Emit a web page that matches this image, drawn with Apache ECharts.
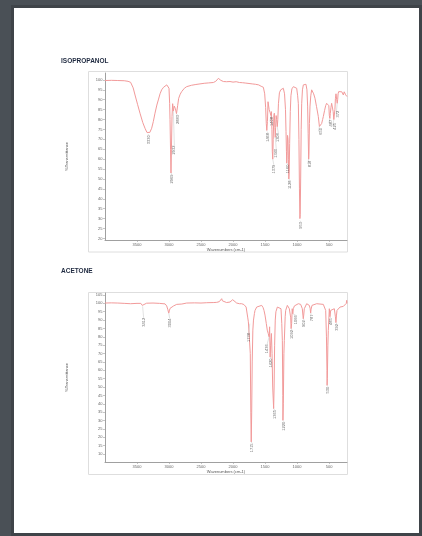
<!DOCTYPE html>
<html><head><meta charset="utf-8">
<script src="https://cdn.jsdelivr.net/npm/echarts@6/dist/echarts.min.js"></script>
<style>html,body{margin:0;padding:0;background:#4a5056;}#c{width:422px;height:536px;}</style>
</head><body><div id="c"></div>
<script>
// ---------- data ----------
const xTicks = [3500, 3000, 2500, 2000, 1500, 1000, 500];
const isoYTicks = [20, 25, 30, 35, 40, 45, 50, 55, 60, 65, 70, 75, 80, 85, 90, 95, 100];
const aceYTicks = [10, 15, 20, 25, 30, 35, 40, 45, 50, 55, 60, 65, 70, 75, 80, 85, 90, 95, 100, 105];

const isoWn = [4000,3900,3800,3700,3640,3600,3583,3560,3531,3490,3453,3410,3375,3345,3330,3300,3271,3245,3219,3190,3167,3140,3115,3085,3062,3035,3021,3008,3000,2990,2984,2976,2969,2962,2953,2943,2932,2918,2900,2883,2865,2849,2825,2802,2760,2724,2650,2580,2516,2450,2380,2307,2270,2245,2229,2210,2190,2177,2150,2120,2100,2047,2000,1950,1900,1850,1800,1750,1700,1650,1600,1560,1526,1505,1490,1480,1472,1468,1462,1453,1435,1420,1408,1400,1392,1386,1379,1372,1362,1354,1346,1340,1334,1326,1318,1308,1300,1290,1275,1255,1235,1214,1195,1180,1172,1165,1160,1155,1148,1140,1134,1128,1122,1115,1105,1095,1080,1057,1040,1026,1005,990,979,970,962,955,953,950,943,935,927,915,901,880,860,845,834,826,818,813,806,797,785,771,755,740,719,695,667,650,630,615,600,589,570,552,537,520,511,503,495,487,480,470,459,450,443,435,425,417,408,400,391,380,372,365,358,349,330,318,300,290,276,262,250,240,230,219];
const isoT  = [99.7,99.8,99.7,99.6,99.3,98.8,98.3,96,92.4,87.5,83.2,78.5,75.6,73.5,72.8,73.5,75.6,79,83.2,87.3,89.9,93,95,96.3,97,97.5,97.5,96.8,95.8,88,80,65,53,65,81.5,88,84.3,86.8,85.5,83,87,90.7,92.8,94.1,95.8,96.6,97.3,97.7,98,98.3,98.5,98.7,99.3,100.2,100.8,100.2,99.8,99.7,99.2,99.6,99.1,99.2,98.9,99.1,98.7,98.6,98.4,98.2,98,97.8,97.5,96.8,96.3,93,86,78,74.5,74,79,89,85,83.5,82,84,75,64,60,70,82,83.2,76,71,76,82,80,76.4,80,88,93.5,95,95.8,95.8,93,85,74,64,58,62,72,70,60,50,54,68,84,92,95.5,96.6,97.2,97.5,95.8,92,88,70,45,30,29,32,50,75,88,95,97.5,98,97.8,95,86.8,73,60,63,78,86.8,92,95,94.5,93,90.7,86.5,81.5,76.5,77,78,80,81.5,84.5,87,88.2,89,89,87,82,80.6,83,86,88.2,88.2,87.4,84,80,80.2,85,90.5,93,90,88.2,90,93,94.1,95,95,94,93,92.4,94,94.1,92.5,91.5,91.6];
const isoPeakWn = [3330,2969,2932,2883,1468,1408,1379,1340,1308,1160,1128,953,818,650,487,425,372];
const isoPeakT  = [72.8,53,84.3,83,74,82,60,71,76.4,58,50,29,60,76.5,80.6,80,88.2];

const aceWn = [4000,3900,3800,3700,3600,3500,3440,3427,3418,3411,3404,3396,3350,3250,3150,3062,3036,3020,3004,2995,2984,2960,2932,2880,2800,2724,2600,2500,2411,2300,2255,2215,2195,2177,2165,2151,2100,2047,2020,2005,1990,1943,1900,1865,1830,1813,1795,1787,1771,1760,1748,1738,1730,1722,1715,1708,1700,1690,1680,1665,1656,1630,1604,1552,1530,1516,1500,1480,1465,1450,1436,1428,1420,1412,1400,1390,1380,1365,1358,1350,1340,1330,1307,1276,1250,1238,1229,1222,1220,1214,1205,1198,1185,1177,1151,1120,1105,1099,1092,1084,1075,1066,1058,1040,1021,979,943,917,908,902,895,886,849,808,795,787,780,766,693,589,552,540,532,530,526,518,511,495,485,474,459,443,417,400,392,383,375,328,276,245,230,224,219];
const aceT  = [100.2,100.3,100.2,100,99.8,100,100,99.8,98.8,98.2,98.8,99.8,100.1,100.2,100,99.7,98.5,96.5,94.2,95.5,97,98,98.4,99.4,99.6,100.2,100.3,100.2,100.4,100.5,100.6,101,102,102.8,101.5,100.8,100.5,100.8,101.6,102.2,101.2,100.2,99.8,99.8,99.3,98.8,97.8,96.8,91.8,89,88.5,87.9,70,35,17.2,35,65,84,90,94,95.8,97.8,98.8,98.8,97.5,95.8,93,88,84,82,80,86,67.9,75,82,70,50,37.1,50,75,90,95,97.8,98.8,96.8,88,77.9,45,30.1,40,70,77.9,92,95.8,98.8,96.8,93,91.8,84.9,88,96.8,93.8,96.8,98.5,98.8,99.8,99.4,96.8,93,90.8,93,96.8,99.8,98.8,97,94.2,96.5,98.8,99.8,99.4,95.8,80,60,51,55,75,83.8,96.8,92,95.8,96,96.8,96.8,92,88.5,93,95.8,97.8,98.2,98.8,100,101.8,100];
const acePeakWn = [3412,3004,1738,1715,1436,1420,1365,1220,1092,1066,902,787,530,485,392];
const acePeakT  = [98.2,94.2,87.9,17.2,80,67.9,37.1,30.1,84.9,93.8,90.8,94.2,51,92,88.5];

// ---------- layout / style ----------
const FONT = '"Liberation Sans", Arial, sans-serif';
const LINE = '#f29a9a';
// [screen right px, screen down px] label displacement
const isoShift = {2932:[1,33], 1379:[1,4], 1340:[1,10], 1308:[1,5], 372:[1,6], 425:[1,2]};
const aceShift = {3412:[1,10], 3004:[1,4], 1738:[-1,8], 1436:[-2,6], 1066:[3,0]};

function pairs(a, b) { return a.map((v, i) => [v, b[i]]); }
const plain = v => String(v);

function mkX(gi) {
  return {
    gridIndex: gi, type: 'value', inverse: true, min: 219, max: 4000,
    axisLine: {show: true, lineStyle: {color: '#a0a0a0', width: 1}},
    axisTick: {show: true, length: 2, customValues: xTicks, lineStyle: {color: '#a0a0a0', width: 0.6}},
    axisLabel: {show: true, customValues: xTicks, formatter: plain, fontSize: 4, color: '#666', margin: 2.5, fontFamily: FONT},
    splitLine: {show: false},
    name: 'Wavenumbers (cm-1)', nameLocation: 'middle', nameGap: 8,
    nameTextStyle: {fontSize: 4, color: '#555', fontFamily: FONT}
  };
}
function mkY(gi, min, max, ticks) {
  return {
    gridIndex: gi, type: 'value', min: min, max: max,
    axisLine: {show: true, lineStyle: {color: '#a0a0a0', width: 1}},
    axisTick: {show: true, length: 2, customValues: ticks, lineStyle: {color: '#a0a0a0', width: 0.6}},
    axisLabel: {show: true, customValues: ticks, formatter: plain, fontSize: 4, color: '#666', margin: 2.5, fontFamily: FONT},
    splitLine: {show: false},
    name: '%Transmittance', nameLocation: 'middle', nameGap: 36, nameRotate: 90,
    nameTextStyle: {fontSize: 4, color: '#555', fontFamily: FONT}
  };
}
function mkLine(gi, wn, t) {
  return {
    type: 'line', xAxisIndex: gi, yAxisIndex: gi, data: pairs(wn, t),
    showSymbol: false, symbol: 'none', silent: true, animation: false, z: 3,
    lineStyle: {color: LINE, width: 1}
  };
}
function mkPeaks(gi, wn, t, shift) {
  return {
    type: 'scatter', xAxisIndex: gi, yAxisIndex: gi, data: pairs(wn, t),
    symbolSize: 0, itemStyle: {color: 'rgba(0,0,0,0)'}, silent: true, animation: false, z: 4,
    label: {
      show: true, formatter: p => String(p.value[0]), position: 'bottom', distance: 1.5,
      rotate: 90, align: 'right', verticalAlign: 'middle',
      fontSize: 4, color: '#444', fontFamily: FONT
    },
    labelLine: {show: true, lineStyle: {color: '#c4c4c4', width: 0.5}},
    // label is rotated 90deg: local -dx moves it down on screen, local +dy moves it right
    labelLayout: p => {
      const s = shift[wn[p.dataIndex]] || [1, 0];
      return {dx: -s[1], dy: s[0]};
    }
  };
}

const chart = echarts.init(document.getElementById('c'), null, {renderer: 'canvas', width: 422, height: 536});
chart.setOption({
  animation: false,
  backgroundColor: '#4a5056',
  graphic: [
    {type: 'rect', z: -20, silent: true, shape: {x: 11, y: 5, width: 411, height: 531}, style: {fill: '#3f4449'}},
    {type: 'rect', z: -19, silent: true, shape: {x: 14, y: 8, width: 405, height: 525}, style: {fill: '#ffffff'}},
    {type: 'rect', z: -18, silent: true, shape: {x: 88.5, y: 71.5, width: 259, height: 180.5}, style: {fill: 'none', stroke: '#dedede', lineWidth: 1}},
    {type: 'rect', z: -18, silent: true, shape: {x: 88.5, y: 292.5, width: 259, height: 182}, style: {fill: 'none', stroke: '#dedede', lineWidth: 1}},
    {type: 'text', z: 10, silent: true, x: 61, y: 61, style: {text: 'ISOPROPANOL', fill: '#1f2a40', font: 'bold 6.5px "Liberation Sans", Arial, sans-serif', verticalAlign: 'middle'}},
    {type: 'text', z: 10, silent: true, x: 61, y: 271, style: {text: 'ACETONE', fill: '#1f2a40', font: 'bold 6.5px "Liberation Sans", Arial, sans-serif', verticalAlign: 'middle'}}
  ],
  grid: [
    {left: 105, top: 73, width: 242, height: 167, containLabel: false},
    {left: 105, top: 293, width: 242, height: 169, containLabel: false}
  ],
  xAxis: [mkX(0), mkX(1)],
  yAxis: [mkY(0, 19.2, 103.5, isoYTicks), mkY(1, 5.2, 106.2, aceYTicks)],
  series: [
    mkLine(0, isoWn, isoT),
    mkPeaks(0, isoPeakWn, isoPeakT, isoShift),
    mkLine(1, aceWn, aceT),
    mkPeaks(1, acePeakWn, acePeakT, aceShift)
  ]
});
</script>
</body></html>
